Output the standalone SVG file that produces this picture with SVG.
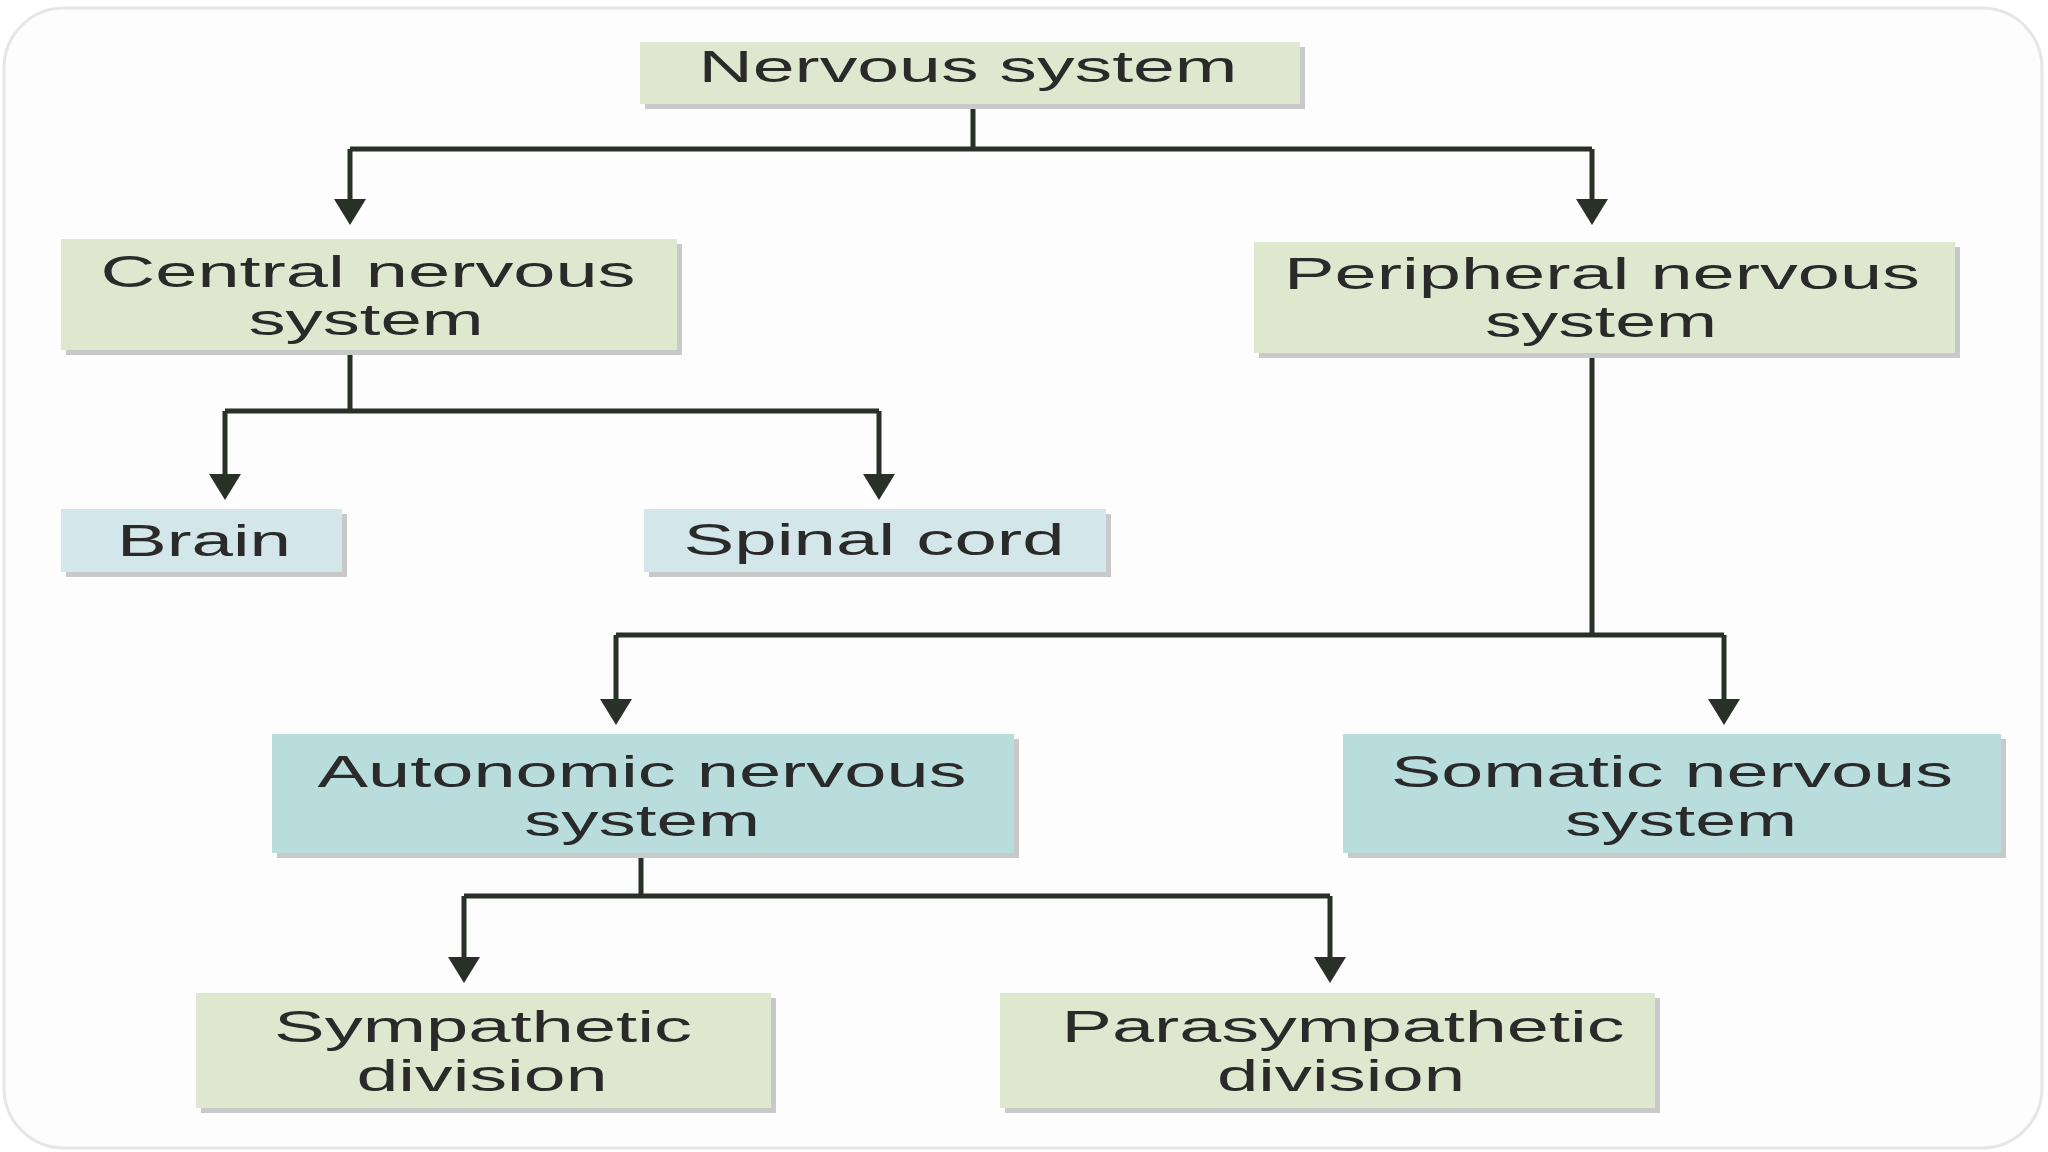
<svg xmlns="http://www.w3.org/2000/svg" width="2048" height="1152" viewBox="0 0 2048 1152">
<defs>
<style>
.g{fill:#dfe7cf}.b{fill:#d3e6ea}.t{fill:#b9dcdc}
.sh{fill:#c9c9c9}
text{font-family:"Liberation Sans",Arial,sans-serif;font-size:44px;fill:#2a2a2a;text-anchor:middle}
.c{fill:none;stroke:#283028;stroke-width:5}
</style>
<path id="ah" d="M-16,0 L16,0 L0,26 Z" fill="#283028"/>
</defs>
<rect width="2048" height="1152" fill="#fff"/>
<rect x="4" y="8" width="2038" height="1140" rx="60" fill="#fdfdfd" stroke="#e6e6e6" stroke-width="3"/>
<g id="connectors">
<path class="c" d="M973,104V149M350,149H1592M350,149V205M1592,149V205"/>
<path class="c" d="M350,350V411M225,411H879M225,411V480M879,411V480"/>
<path class="c" d="M1592,353V635M616,635H1724M616,635V705M1724,635V705"/>
<path class="c" d="M641,853V896M464,896H1330M464,896V963M1330,896V963"/>
<use href="#ah" x="350" y="199"/><use href="#ah" x="1592" y="199"/>
<use href="#ah" x="225" y="474"/><use href="#ah" x="879" y="474"/>
<use href="#ah" x="616" y="699"/><use href="#ah" x="1724" y="699"/>
<use href="#ah" x="464" y="957"/><use href="#ah" x="1330" y="957"/>
</g>
<g id="n1"><rect class="sh" x="645" y="47" width="660" height="62"/><rect class="g" x="640" y="42" width="660" height="62"/><text x="968" y="82" textLength="539" lengthAdjust="spacingAndGlyphs">Nervous system</text></g>
<g id="n2"><rect class="sh" x="66" y="244" width="616" height="111"/><rect class="g" x="61" y="239" width="616" height="111"/><text x="368" y="287" textLength="535" lengthAdjust="spacingAndGlyphs">Central nervous</text><text x="366" y="335" textLength="235" lengthAdjust="spacingAndGlyphs">system</text></g>
<g id="n3"><rect class="sh" x="1259" y="247" width="701" height="111"/><rect class="g" x="1254" y="242" width="701" height="111"/><text x="1602" y="289" textLength="636" lengthAdjust="spacingAndGlyphs">Peripheral nervous</text><text x="1601" y="337" textLength="232" lengthAdjust="spacingAndGlyphs">system</text></g>
<g id="n4"><rect class="sh" x="66" y="514" width="281" height="63"/><rect class="g b" x="61" y="509" width="281" height="63"/><text x="204" y="556" textLength="174" lengthAdjust="spacingAndGlyphs">Brain</text></g>
<g id="n5"><rect class="sh" x="649" y="514" width="462" height="63"/><rect class="b" x="644" y="509" width="462" height="63"/><text x="874" y="555" textLength="381" lengthAdjust="spacingAndGlyphs">Spinal cord</text></g>
<g id="n6"><rect class="sh" x="277" y="739" width="742" height="119"/><rect class="t" x="272" y="734" width="742" height="119"/><text x="642" y="787" textLength="649" lengthAdjust="spacingAndGlyphs">Autonomic nervous</text><text x="642" y="836" textLength="236" lengthAdjust="spacingAndGlyphs">system</text></g>
<g id="n7"><rect class="sh" x="1348" y="739" width="658" height="119"/><rect class="t" x="1343" y="734" width="658" height="119"/><text x="1672" y="787" textLength="562" lengthAdjust="spacingAndGlyphs">Somatic nervous</text><text x="1681" y="836" textLength="232" lengthAdjust="spacingAndGlyphs">system</text></g>
<g id="n8"><rect class="sh" x="201" y="998" width="575" height="115"/><rect class="g" x="196" y="993" width="575" height="115"/><text x="483" y="1042" textLength="418" lengthAdjust="spacingAndGlyphs">Sympathetic</text><text x="482" y="1091" textLength="251" lengthAdjust="spacingAndGlyphs">division</text></g>
<g id="n9"><rect class="sh" x="1005" y="998" width="655" height="115"/><rect class="g" x="1000" y="993" width="655" height="115"/><text x="1343" y="1042" textLength="563" lengthAdjust="spacingAndGlyphs">Parasympathetic</text><text x="1341" y="1091" textLength="248" lengthAdjust="spacingAndGlyphs">division</text></g>
</svg>
